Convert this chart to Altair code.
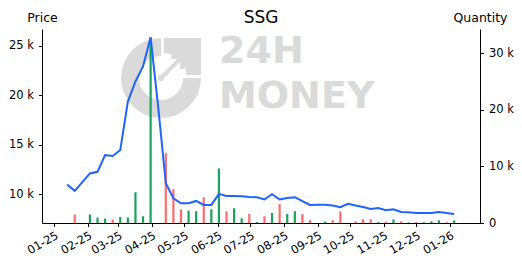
import math
import altair as alt
import pandas as pd

# ---------------- data ----------------
dates = pd.date_range("2025-01-13", periods=52, freq="7D").strftime("%Y-%m-%d").tolist()

price = [10984, 10335, 11217, 12099, 12261, 13955, 13853, 14462, 19360, 21387,
         22908, 25850, 18800, 11115, 9594, 9087, 9087, 9320, 8915, 8915,
         10030, 9828, 9828, 9797, 9726, 9696, 9463, 10000, 9463, 9625,
         9696, 9290, 8915, 8935, 8935, 8854, 8682, 9037, 8854, 8702,
         8499, 8611, 8378, 8479, 8205, 8175, 8104, 8104, 8104, 8205,
         8104, 7992]

quantity = [0, 1490, 0, 1490, 960, 780, 600, 1060, 960, 5430,
            1190, 32700, 0, 12340, 5960, 2420, 2190, 2070, 4550, 2420,
            9630, 2070, 2600, 830, 1590, 180, 1190, 1770, 3340, 1570,
            2070, 1570, 480, 0, 250, 480, 2070, 0, 300, 650,
            650, 150, 250, 650, 300, 130, 150, 130, 300, 480,
            130, 450]

direction = ["up", "down", "up", "up", "up", "up", "down", "up", "up", "up",
             "up", "up", "up", "down", "down", "down", "up", "up", "down", "up",
             "up", "down", "up", "up", "down", "up", "down", "up", "down", "up",
             "up", "down", "down", "up", "up", "down", "down", "up", "down", "down",
             "down", "up", "down", "up", "down", "up", "down", "up", "up", "up",
             "down", "up"]

month_ticks = [(2025, m) for m in range(1, 13)] + [(2026, 1)]
price_ticks = [10000, 15000, 20000, 25000]
qty_ticks = [0, 10000, 20000, 30000]
chart_title = "SSG"

df = pd.DataFrame({"date": dates, "price": price, "qty": quantity, "dir": direction})

# ---------------- style ----------------
W, H = 438, 194
BLUE = "#1f63ff"
GREEN = "#1aa35f"
RED = "#ff6b6b"
WM = "#dadada"
FONT = "DejaVu Sans"

x_scale = alt.Scale(
    type="utc",
    domain=[alt.DateTime(year=2024, month=12, date=25, hours=10, utc=True),
            alt.DateTime(year=2026, month=1, date=24, hours=5, utc=True)],
)
x_axis = alt.Axis(
    values=[alt.DateTime(year=y, month=m, date=1, utc=True) for y, m in month_ticks],
    labelExpr="utcFormat(datum.value, '%m-%y')",
    labelAngle=-30, labelAlign="right", labelBaseline="top", labelPadding=3,
    labelOverlap=False, labelBound=False, labelFlush=False,
    title=None,
)
x_enc = alt.X("date:T", scale=x_scale, axis=x_axis)

dummy = pd.DataFrame({"a": [0]})

# ---------------- watermark ----------------
cx, cy = 119, 49
ring = alt.Chart(dummy).mark_arc(
    color=WM, innerRadius=22, outerRadius=40, theta=math.pi / 2, theta2=2 * math.pi
).encode(x=alt.value(cx), y=alt.value(cy))
square = alt.Chart(dummy).mark_rect(color=WM).encode(
    x=alt.value(cx + 3), x2=alt.value(cx + 40), y=alt.value(cy - 40), y2=alt.value(cy - 3)
)
hole = alt.Chart(dummy).mark_arc(
    color="white", outerRadius=22, theta=0, theta2=math.pi / 2
).encode(x=alt.value(cx + 3), y=alt.value(cy - 3))
arrow = alt.Chart(dummy).mark_rule(color=WM, strokeWidth=4).encode(
    x=alt.value(cx + 2), y=alt.value(cy - 2), x2=alt.value(cx + 20), y2=alt.value(cy - 20)
)
head1 = alt.Chart(dummy).mark_rule(color=WM, strokeWidth=4).encode(
    x=alt.value(cx + 10), y=alt.value(cy - 21), x2=alt.value(cx + 22), y2=alt.value(cy - 21)
)
head2 = alt.Chart(dummy).mark_rule(color=WM, strokeWidth=4).encode(
    x=alt.value(cx + 21), y=alt.value(cy - 21), x2=alt.value(cx + 21), y2=alt.value(cy - 9)
)
dot = alt.Chart(dummy).mark_point(color=WM, filled=True, size=40, opacity=1).encode(
    x=alt.value(cx), y=alt.value(cy)
)
wm1 = alt.Chart(pd.DataFrame({"t": ["24H"]})).mark_text(
    color=WM, font=FONT, fontSize=38, fontWeight="bold", align="left", baseline="alphabetic"
).encode(text="t:N", x=alt.value(177), y=alt.value(34))
wm2 = alt.Chart(pd.DataFrame({"t": ["MONEY"]})).mark_text(
    color=WM, font=FONT, fontSize=38, fontWeight="bold", align="left", baseline="alphabetic"
).encode(text="t:N", x=alt.value(177), y=alt.value(79))

title_txt = alt.Chart(pd.DataFrame({"t": [chart_title]})).mark_text(
    color="black", font=FONT, fontSize=17, align="center", baseline="alphabetic"
).encode(text="t:N", x=alt.value(W / 2), y=alt.value(-6))

# ---------------- data layers ----------------
bars = alt.Chart(df).mark_bar(size=2.2).encode(
    x=x_enc,
    y=alt.Y("qty:Q",
            scale=alt.Scale(domain=[0, 34250], nice=False, zero=True),
            axis=alt.Axis(orient="right", values=qty_ticks,
                          labelExpr="datum.value == 0 ? '0' : (datum.value / 1000) + ' k'",
                          title="Quantity", titleAngle=0, titleX=0, titleY=-8,
                          titleAlign="center", titleBaseline="alphabetic")),
    color=alt.Color("dir:N", scale=alt.Scale(domain=["up", "down"], range=[GREEN, RED]), legend=None),
)

line = alt.Chart(df).mark_line(color=BLUE, strokeWidth=2).encode(
    x=x_enc,
    y=alt.Y("price:Q",
            scale=alt.Scale(domain=[7089, 26694], nice=False, zero=False),
            axis=alt.Axis(orient="left", values=price_ticks,
                          labelExpr="(datum.value / 1000) + ' k'",
                          title="Price", titleAngle=0, titleX=0, titleY=-8,
                          titleAlign="center", titleBaseline="alphabetic")),
)

chart = alt.layer(
    ring, square, hole, arrow, head1, head2, dot, wm1, wm2, title_txt, bars, line
).resolve_scale(y="independent").properties(
    width=W, height=H,
    autosize=alt.AutoSizeParams(type="none"),
    padding={"left": 42, "top": 29, "right": 42, "bottom": 45},
).configure_view(stroke=None).configure_axis(
    grid=False, domainColor="black", tickColor="black", labelColor="black",
    titleColor="black", labelFont=FONT, titleFont=FONT, labelFontSize=11.5,
    titleFontSize=12.5, titleFontWeight="normal", tickSize=3.5, labelPadding=5,
    domainWidth=1, tickWidth=1,
)

chart.save("out.html", embed_options={"renderer": "svg", "actions": False})
